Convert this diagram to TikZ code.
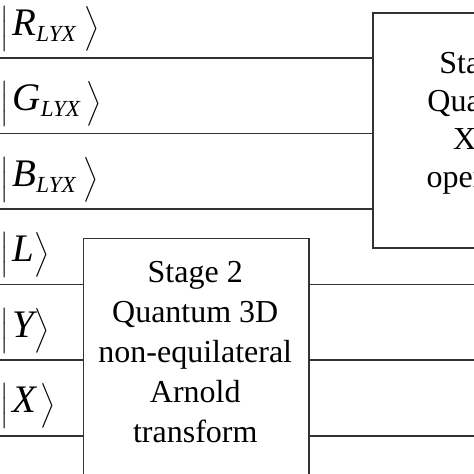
\documentclass[tikz,border=0pt]{standalone}
\usepackage{exscale}
\usepackage{amsmath}
\usepackage{fontspec}
\setmainfont{Liberation Serif}
\DeclareMathSizes{39}{39}{23}{17}
\definecolor{linegray}{RGB}{50,50,50}
\newcommand{\ketstrut}{\rule[-13pt]{0pt}{35pt}}
\begin{document}
\begin{tikzpicture}[x=1pt,y=-1pt,
  wire/.style={draw=linegray, line width=1.8pt},
  stagebox/.style={draw=linegray, line width=1.8pt, inner sep=0pt, anchor=north west},
  ket/.style={anchor=base west, inner sep=0pt, font=\fontsize{39}{47}\selectfont},
  stagetext/.style={align=center, inner sep=0pt, anchor=north}
]
\useasboundingbox (0,0) rectangle (474,474);
\clip (0,0) rectangle (474,474);
\fill[white] (0,0) rectangle (474,474);

% boxes
\node[stagebox, minimum width=230pt, minimum height=235pt] (s3) at (372,12) {};
\node[stagebox, minimum width=225.5pt, minimum height=282.5pt] (s2) at (82.5,237.5) {};

% box texts
\node[stagetext, font=\fontsize{32}{38}\selectfont] (t3) at (487,52) {Stage 3\\Quantum\\XOR\\operation};
\node[stagetext, font=\fontsize{32}{40}\selectfont] (t2) at (195.25,261.5) {Stage 2\\Quantum 3D\\non-equilateral\\Arnold\\transform};

% wire end coordinates
\coordinate (wr) at (0,58);
\coordinate (wg) at (0,133.5);
\coordinate (wb) at (0,209);
\coordinate (wl) at (0,284.5);
\coordinate (wy) at (0,360);
\coordinate (wx) at (0,436);
\coordinate (el) at (474,284.5);
\coordinate (ey) at (474,360);
\coordinate (ex) at (474,436);

\draw[wire] (wr) -- (wr -| s3.west);
\draw[wire] (wg) -- (wg -| s3.west);
\draw[wire] (wb) -- (wb -| s3.west);
\draw[wire] (wl) -- (wl -| s2.west);
\draw[wire] (wy) -- (wy -| s2.west);
\draw[wire] (wx) -- (wx -| s2.west);
\draw[wire] (el -| s2.east) -- (el);
\draw[wire] (ey -| s2.east) -- (ey);
\draw[wire] (ex -| s2.east) -- (ex);

% ket labels
\node[ket] (kr) at (0,35) {$\left|\ketstrut\,\textit{R}_{\textit{LYX}}\mkern6mu\right\rangle$};
\node[ket] (kg) at (0,110.5) {$\left|\ketstrut\,\textit{G}_{\textit{LYX}}\mkern4mu\right\rangle$};
\node[ket] (kb) at (0,186) {$\left|\ketstrut\,\textit{B}_{\textit{LYX}}\mkern5mu\right\rangle$};
\node[ket] (kl) at (0,261.5) {$\left|\ketstrut\,\textit{L}\right\rangle$};
\node[ket] (ky) at (0,337) {$\left|\ketstrut\,\textit{Y}\right\rangle$};
\node[ket] (kx) at (0,412.5) {$\left|\ketstrut\,\textit{X}\mkern3mu\right\rangle$};
\end{tikzpicture}
\end{document}
